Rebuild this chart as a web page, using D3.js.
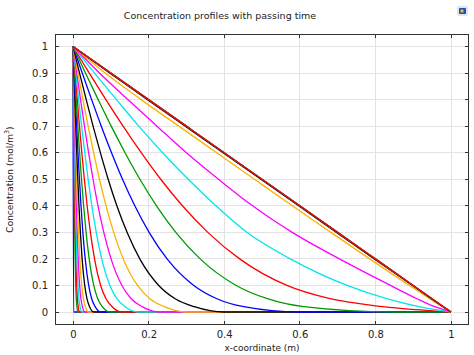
<!DOCTYPE html>
<html><head><meta charset="utf-8">
<script src="https://cdn.jsdelivr.net/npm/d3@7"></script>
<style>body{margin:0;background:#fff}svg{display:block}text{font-family:"DejaVu Sans",sans-serif;fill:#222}</style>
</head><body><svg id="c" width="474" height="355"></svg>
<script>
// Concentration levels at which each profile's x-position was read
const LEVELS = [1, 0.9, 0.8, 0.7, 0.6, 0.5, 0.4, 0.3, 0.2, 0.1, 0.05, 0.02, 0];
// x-positions (m) of each profile at the LEVELS above, in time order (t=0 handled separately)
const INITIAL_X = [0, 0.0015, 1];
const INITIAL_C = [1, 0, 0];
const P01 = [0, .0006, .0011, .0017, .0023, .003, .0037, .0046, .0057, .0073, .0087, .0103, .013];
const P02 = [0, .0007, .0015, .0023, .0031, .004, .005, .0061, .0076, .0098, .0116, .0138, .017];
const P03 = [0, .001, .002, .0031, .0042, .0054, .0067, .0083, .0103, .0132, .0157, .0186, .023];
const P04 = [0, .0013, .0027, .0041, .0056, .0072, .009, .0111, .0137, .0176, .0209, .0248, .031];
const P05 = [0, .0018, .0036, .0054, .0074, .0095, .0119, .0146, .018, .0232, .0276, .0328, .041];
const P06 = [0, .0024, .0048, .0073, .0099, .0127, .0158, .0195, .0241, .031, .0369, .0438, .055];
const P07 = [0, .0032, .0064, .0097, .0132, .017, .0212, .0261, .0323, .0415, .0494, .0586, .073];
const P08 = [0, .0042, .0085, .0128, .0175, .0225, .0281, .0346, .0428, .0549, .0654, .0776, .097];
const P09 = [0, .0056, .0113, .0171, .0233, .030, .0374, .0461, .057, .0732, .0872, .1035, .129];
const P10 = [0, .0074, .015, .0228, .0311, .040, .0499, .0615, .076, .0976, .1162, .138, .172];
const P11 = [0, .0099, .0199, .0303, .0412, .053, .0661, .0815, .1007, .1293, .154, .1828, .228];
const P12 = [0, .013, .0263, .04, .0545, .070, .0874, .1076, .133, .1707, .2034, .2414, .30];
const P13 = [0, .0173, .035, .0531, .0724, .093, .116, .143, .1767, .2268, .2703, .3208, .40];
const P14 = [0, .0244, .0493, .0748, .1019, .131, .1635, .2013, .2489, .3195, .3807, .4518, .60];
const P15 = [0, .0329, .0666, .1011, .1377, .177, .2209, .272, .3363, .4317, .5144, .6105, .85];
const P16 = [0, .043, .087, .1325, .1805, .232, .2895, .3566, .4408, .5658, .68, .82, 1];
const P17 = [0, .057, .115, .174, .237, .305, .378, .46, .575, .725, .83, .915, 1];
const P18 = [0, .07, .145, .222, .30, .385, .475, .58, .705, .84, .91, .957, 1];
const P19 = [0, .085, .18, .28, .38, .48, .58, .682, .785, .89, .944, .977, 1];
const P20 = [0, .097, .197, .297, .397, .497, .597, .697, .797, .898, .948, .979, 1];
const STEADY = [0, .1, .2, .3, .4, .5, .6, .7, .8, .9, .95, .98, 1];
const PROFILES = [P01, P02, P03, P04, P05, P06, P07, P08, P09, P10, P11, P12, P13, P14, P15, P16, P17, P18, P19, P20, STEADY, STEADY, STEADY];
const COLORS = ["#0000ff", "#009a00", "#ff0000", "#00e5ee", "#ff00ff", "#ffb000", "#000000"];
const X_TICKS = [0, 0.2, 0.4, 0.6, 0.8, 1];
const Y_TICKS = [0, 0.1, 0.2, 0.3, 0.4, 0.5, 0.6, 0.7, 0.8, 0.9, 1];

const svg = d3.select("#c");
const L = 55, T = 34, R = 469, B = 325;
const x = d3.scaleLinear().domain([0, 1]).range([73, 451]);
const y = d3.scaleLinear().domain([0, 1]).range([312, 46.5]);

svg.append("rect").attr("width", 474).attr("height", 355).attr("fill", "#fff");

// grid
const g = svg.append("g");
g.selectAll(".gx").data(X_TICKS).join("line")
  .attr("x1", d => x(d)).attr("x2", d => x(d)).attr("y1", T).attr("y2", B)
  .attr("stroke", "#e3e3e3").attr("stroke-width", 1).attr("shape-rendering", "crispEdges");
g.selectAll(".gy").data(Y_TICKS).join("line")
  .attr("x1", L).attr("x2", R).attr("y1", d => y(d)).attr("y2", d => y(d))
  .attr("stroke", "#e3e3e3").attr("stroke-width", 1).attr("shape-rendering", "crispEdges");

// curves
svg.append("clipPath").attr("id", "clip").append("rect").attr("x", L).attr("y", T).attr("width", R - L).attr("height", B - T);
const line = d3.line().x(d => x(d[0])).y(d => y(d[1])).curve(d3.curveMonotoneX);
const cg = svg.append("g").attr("clip-path", "url(#clip)");
const series = [{pts: INITIAL_X.map((v, i) => [v, INITIAL_C[i]]), color: COLORS[0]}];
PROFILES.forEach((p, i) => {
  const pts = p.map((v, j) => [v, LEVELS[j]]);
  if (pts[pts.length - 1][0] < 1) pts.push([1, 0]);
  series.push({pts, color: COLORS[(i + 1) % COLORS.length]});
});
cg.selectAll("path").data(series).join("path")
  .attr("d", d => line(d.pts)).attr("fill", "none")
  .attr("stroke", d => d.color).attr("stroke-width", 1.3);

// frame
svg.append("rect").attr("x", L + 0.5).attr("y", T + 0.5).attr("width", R - L - 1).attr("height", B - T - 1)
  .attr("fill", "none").attr("stroke", "#333").attr("stroke-width", 1);

// axes (ticks inward on all sides)
const ax = svg.append("g").attr("font-size", 9);
const xb = d3.axisBottom(x).tickValues(X_TICKS).tickSize(0).tickPadding(6).tickFormat(d3.format("~g"));
const axB = ax.append("g").attr("transform", `translate(0,${B})`).call(xb);
const yl = d3.axisLeft(y).tickValues(Y_TICKS).tickSize(0).tickPadding(7).tickFormat(d3.format("~g"));
const axL = ax.append("g").attr("transform", `translate(${L},0)`).call(yl);
[axB, axL].forEach(a => { a.select(".domain").remove(); a.selectAll("text").attr("fill", "#222").attr("font-family", "DejaVu Sans"); });

const tk = svg.append("g").attr("stroke", "#333").attr("stroke-width", 1).attr("shape-rendering", "crispEdges");
X_TICKS.forEach(d => {
  tk.append("line").attr("x1", x(d)).attr("x2", x(d)).attr("y1", B).attr("y2", B - 4);
  tk.append("line").attr("x1", x(d)).attr("x2", x(d)).attr("y1", T).attr("y2", T + 4);
});
Y_TICKS.forEach(d => {
  tk.append("line").attr("x1", L).attr("x2", L + 4).attr("y1", y(d)).attr("y2", y(d));
  tk.append("line").attr("x1", R).attr("x2", R - 4).attr("y1", y(d)).attr("y2", y(d));
});

// titles
svg.append("text").attr("x", 220).attr("y", 19).attr("text-anchor", "middle").attr("font-size", 9.5)
  .text("Concentration profiles with passing time");
svg.append("text").attr("x", 262).attr("y", 351).attr("text-anchor", "middle").attr("font-size", 9)
  .text("x-coordinate (m)");
const yt = svg.append("text").attr("transform", `translate(13,${(T + B) / 2}) rotate(-90)`)
  .attr("text-anchor", "middle").attr("font-size", 9);
yt.append("tspan").text("Concentration (mol/m");
yt.append("tspan").attr("font-size", 6.5).attr("dy", -4).text("3");
yt.append("tspan").attr("dy", 4).text(")");

// small toolbar icon at top right
const ic = svg.append("g").attr("transform", "translate(457,6)");
ic.append("rect").attr("width", 11).attr("height", 10).attr("rx", 2).attr("fill", "#dde6f2");
ic.append("rect").attr("x", 2).attr("y", 2).attr("width", 7).attr("height", 6).attr("rx", 1).attr("fill", "#1f4fb0");
ic.append("rect").attr("x", 3.5).attr("y", 3.5).attr("width", 3).attr("height", 3).attr("fill", "#e8c040");
</script></body></html>
